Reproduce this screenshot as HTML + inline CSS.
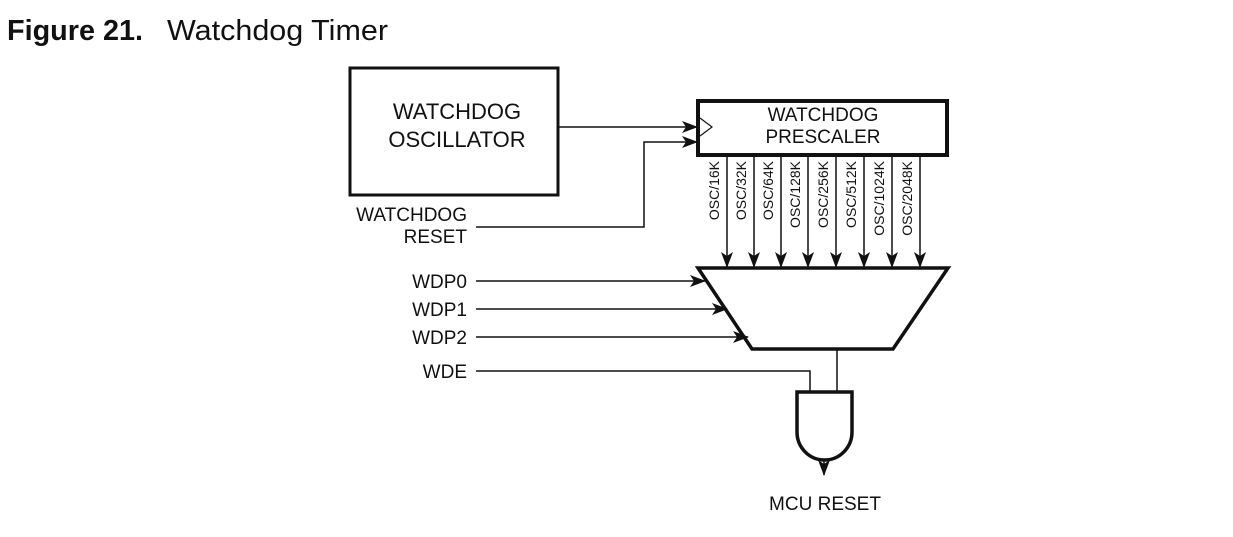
<!DOCTYPE html>
<html><head><meta charset="utf-8"><style>
html,body{margin:0;padding:0;background:#fff;}
svg{display:block;}
text{font-family:"Liberation Sans",Arial,sans-serif;fill:#111;}
</style></head><body>
<svg width="1233" height="537" viewBox="0 0 1233 537" xmlns="http://www.w3.org/2000/svg">
<defs>
<marker id="b" markerWidth="16" markerHeight="12" refX="15" refY="6" orient="auto" markerUnits="userSpaceOnUse">
<path d="M0,0 L16,6 L0,12 L4,6 z" fill="#111"/>
</marker>
</defs>
<text x="7" y="40" font-size="29" font-weight="bold" textLength="136" lengthAdjust="spacingAndGlyphs">Figure 21.</text>
<text x="167" y="40" font-size="29" textLength="221" lengthAdjust="spacingAndGlyphs">Watchdog Timer</text>

<rect x="350" y="68" width="208" height="127" fill="none" stroke="#111" stroke-width="3"/>
<text x="457" y="119" font-size="22" text-anchor="middle">WATCHDOG</text>
<text x="457" y="147" font-size="22" text-anchor="middle">OSCILLATOR</text>

<rect x="698" y="101" width="249" height="54" fill="none" stroke="#111" stroke-width="4"/>
<text x="823" y="121" font-size="19" text-anchor="middle">WATCHDOG</text>
<text x="823" y="143" font-size="19" text-anchor="middle">PRESCALER</text>
<path d="M700,118 L712,127 L700,136" fill="none" stroke="#111" stroke-width="1.2"/>

<line x1="558" y1="127" x2="697" y2="127" stroke="#111" stroke-width="1.5" marker-end="url(#b)"/>
<polyline points="476,227 644,227 644,142 697,142" fill="none" stroke="#111" stroke-width="1.5" marker-end="url(#b)"/>
<text x="467" y="221" font-size="19" text-anchor="end">WATCHDOG</text>
<text x="467" y="243" font-size="19" text-anchor="end">RESET</text>

<g stroke="#111" stroke-width="1.5">
<line x1="727" y1="155" x2="727" y2="267" marker-end="url(#b)"/>
<line x1="754" y1="155" x2="754" y2="267" marker-end="url(#b)"/>
<line x1="781" y1="155" x2="781" y2="267" marker-end="url(#b)"/>
<line x1="808" y1="155" x2="808" y2="267" marker-end="url(#b)"/>
<line x1="836" y1="155" x2="836" y2="267" marker-end="url(#b)"/>
<line x1="864" y1="155" x2="864" y2="267" marker-end="url(#b)"/>
<line x1="892" y1="155" x2="892" y2="267" marker-end="url(#b)"/>
<line x1="920" y1="155" x2="920" y2="267" marker-end="url(#b)"/>
</g>
<g font-size="14" text-anchor="end">
<text transform="translate(719,161) rotate(-90)">OSC/16K</text>
<text transform="translate(746,161) rotate(-90)">OSC/32K</text>
<text transform="translate(773,161) rotate(-90)">OSC/64K</text>
<text transform="translate(800,161) rotate(-90)">OSC/128K</text>
<text transform="translate(828,161) rotate(-90)">OSC/256K</text>
<text transform="translate(856,161) rotate(-90)">OSC/512K</text>
<text transform="translate(884,161) rotate(-90)">OSC/1024K</text>
<text transform="translate(912,161) rotate(-90)">OSC/2048K</text>
</g>

<polygon points="698,268 948,268 893,349 752,349" fill="none" stroke="#111" stroke-width="3.5"/>

<line x1="476" y1="281" x2="705" y2="281" stroke="#111" stroke-width="1.5" marker-end="url(#b)"/>
<line x1="476" y1="309" x2="727" y2="309" stroke="#111" stroke-width="1.5" marker-end="url(#b)"/>
<line x1="476" y1="337" x2="748" y2="337" stroke="#111" stroke-width="1.5" marker-end="url(#b)"/>
<text x="467" y="288" font-size="19" text-anchor="end">WDP0</text>
<text x="467" y="316" font-size="19" text-anchor="end">WDP1</text>
<text x="467" y="344" font-size="19" text-anchor="end">WDP2</text>
<text x="467" y="378" font-size="19" text-anchor="end">WDE</text>

<polyline points="476,371 810,371 810,392" fill="none" stroke="#111" stroke-width="1.5"/>
<line x1="837" y1="350" x2="837" y2="392" stroke="#111" stroke-width="1.5"/>
<path d="M797,432 L797,392 L852,392 L852,432 A27.5,28 0 0 1 797,432" fill="none" stroke="#111" stroke-width="3.5"/>
<line x1="824" y1="461" x2="824" y2="475" stroke="#111" stroke-width="1.5" marker-end="url(#b)"/>
<text x="825" y="510" font-size="19" text-anchor="middle">MCU RESET</text>
</svg>
</body></html>
